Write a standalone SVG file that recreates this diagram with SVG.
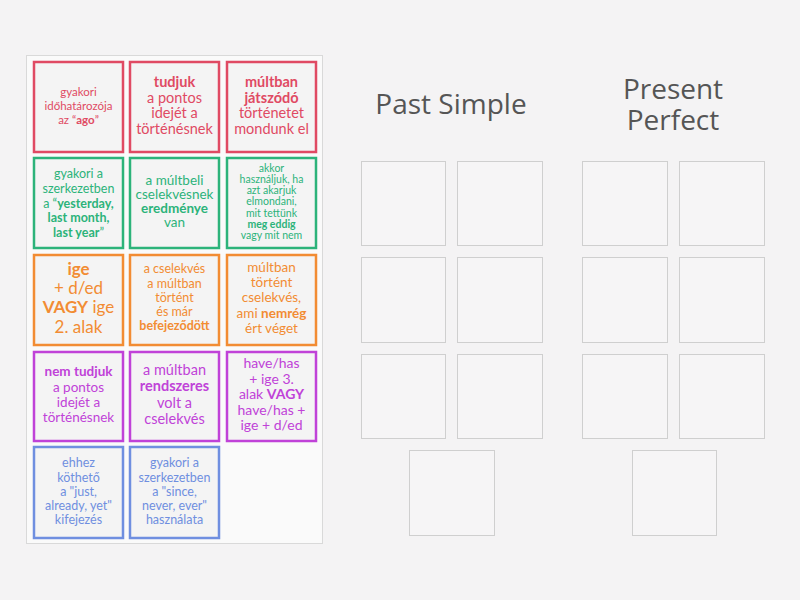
<svg xmlns="http://www.w3.org/2000/svg" width="800" height="600" viewBox="0 0 800 600">
<style>
text{font-family:"Lato","Noto Sans","DejaVu Sans",sans-serif;text-anchor:middle}
.card{fill:#f4f4f4;stroke-width:2.5}
.red rect{stroke:#e04a63}.red text{fill:#e04a63}
.green rect{stroke:#2cb37a}.green text{fill:#2cb37a}
.orange rect{stroke:#f28c33}.orange text{fill:#f28c33}
.purple rect{stroke:#c042d8}.purple text{fill:#c042d8}
.blue rect{stroke:#6f8fe0}.blue text{fill:#6f8fe0}
.b{font-weight:bold}
.slot{fill:#f6f5f6;stroke:#cfcfcf;stroke-width:1}
.title{fill:#555;font-size:28px;font-family:"Open Sans","Lato",sans-serif}
</style>
<rect width="800" height="600" fill="#f4f3f4"/>
<rect x="26.5" y="55.5" width="296" height="488" fill="#fafafa" stroke="#d9d9d9"/>

<g id="card-r1c1" class="red"><rect class="card" x="34" y="62" width="89" height="90"/>
<g font-size="11.5"><text x="78.5" y="96">gyakori</text><text x="78.5" y="110">időhatározója</text><text x="78.5" y="124">az “<tspan class="b">ago</tspan>”</text></g></g>
<g id="card-r1c2" class="red"><rect class="card" x="130" y="62" width="89" height="90"/>
<g font-size="14.5"><text x="174.5" y="87" class="b">tudjuk</text><text x="174.5" y="102.5">a pontos</text><text x="174.5" y="118">idejét a</text><text x="174.5" y="133.5">történésnek</text></g></g>
<g id="card-r1c3" class="red"><rect class="card" x="227" y="62" width="89" height="90"/>
<g font-size="14.5"><text x="271.5" y="87" class="b">múltban</text><text x="271.5" y="102.5" class="b">játszódó</text><text x="271.5" y="118">történetet</text><text x="271.5" y="133.5">mondunk el</text></g></g>

<g id="card-r2c1" class="green"><rect class="card" x="34" y="158" width="89" height="90"/>
<g font-size="12.5"><text x="78.5" y="178">gyakori a</text><text x="78.5" y="193">szerkezetben</text><text x="78.5" y="208">a “<tspan class="b">yesterday,</tspan></text><text x="78.5" y="222" class="b">last month,</text><text x="78.5" y="236.5"><tspan class="b">last year</tspan>”</text></g></g>
<g id="card-r2c2" class="green"><rect class="card" x="130" y="158" width="89" height="90"/>
<g font-size="13.5"><text x="174.5" y="185">a múltbeli</text><text x="174.5" y="199">cselekvésnek</text><text x="174.5" y="213" class="b">eredménye</text><text x="174.5" y="227">van</text></g></g>
<g id="card-r2c3" class="green"><rect class="card" x="227" y="158" width="89" height="90"/>
<g font-size="10.5"><text x="271.5" y="172">akkor</text><text x="271.5" y="183">használjuk, ha</text><text x="271.5" y="194">azt akarjuk</text><text x="271.5" y="205">elmondani,</text><text x="271.5" y="217">mit tettünk</text><text x="271.5" y="228" class="b">meg eddig</text><text x="271.5" y="239">vagy mit nem</text></g></g>

<g id="card-r3c1" class="orange"><rect class="card" x="34" y="255" width="89" height="90"/>
<g font-size="17"><text x="78.5" y="275" class="b">ige</text><text x="78.5" y="294">+ d/ed</text><text x="78.5" y="313"><tspan class="b">VAGY</tspan> ige</text><text x="78.5" y="333">2. alak</text></g></g>
<g id="card-r3c2" class="orange"><rect class="card" x="130" y="255" width="89" height="90"/>
<g font-size="12.5"><text x="174.5" y="273">a cselekvés</text><text x="174.5" y="288">a múltban</text><text x="174.5" y="302">történt</text><text x="174.5" y="316">és már</text><text x="174.5" y="330" class="b">befejeződött</text></g></g>
<g id="card-r3c3" class="orange"><rect class="card" x="227" y="255" width="89" height="90"/>
<g font-size="13.5"><text x="271.5" y="272">múltban</text><text x="271.5" y="287">történt</text><text x="271.5" y="302">cselekvés,</text><text x="271.5" y="318">ami <tspan class="b">nemrég</tspan></text><text x="271.5" y="333">ért véget</text></g></g>

<g id="card-r4c1" class="purple"><rect class="card" x="34" y="352" width="89" height="89"/>
<g font-size="13.5"><text x="78.5" y="376" class="b">nem tudjuk</text><text x="78.5" y="392">a pontos</text><text x="78.5" y="407">idejét a</text><text x="78.5" y="422">történésnek</text></g></g>
<g id="card-r4c2" class="purple"><rect class="card" x="130" y="352" width="89" height="89"/>
<g font-size="14.5"><text x="174.5" y="375">a múltban</text><text x="174.5" y="391" class="b">rendszeres</text><text x="174.5" y="408">volt a</text><text x="174.5" y="424">cselekvés</text></g></g>
<g id="card-r4c3" class="purple"><rect class="card" x="227" y="352" width="89" height="89"/>
<g font-size="14"><text x="271.5" y="368">have/has</text><text x="271.5" y="383.5">+ ige 3.</text><text x="271.5" y="399">alak <tspan class="b">VAGY</tspan></text><text x="271.5" y="414.5">have/has +</text><text x="271.5" y="430">ige + d/ed</text></g></g>

<g id="card-r5c1" class="blue"><rect class="card" x="34" y="447" width="89" height="91"/>
<g font-size="12.5"><text x="78.5" y="467">ehhez</text><text x="78.5" y="481.5">köthető</text><text x="78.5" y="495.5">a "just,</text><text x="78.5" y="509.5">already, yet"</text><text x="78.5" y="524">kifejezés</text></g></g>
<g id="card-r5c2" class="blue"><rect class="card" x="130" y="447" width="89" height="91"/>
<g font-size="12.5"><text x="174.5" y="467">gyakori a</text><text x="174.5" y="481.5">szerkezetben</text><text x="174.5" y="495.5">a "since,</text><text x="174.5" y="509.5">never, ever"</text><text x="174.5" y="524">használata</text></g></g>

<g id="title-past"><text class="title" x="451" y="114">Past Simple</text></g>
<g id="title-present"><text class="title" x="673" y="98.5">Present</text><text class="title" x="673" y="129.5">Perfect</text></g>

<g id="slots-past">
<rect class="slot" x="361.5" y="161.5" width="84" height="84"/><rect class="slot" x="457.5" y="161.5" width="85" height="84"/>
<rect class="slot" x="361.5" y="257.5" width="84" height="85"/><rect class="slot" x="457.5" y="257.5" width="85" height="85"/>
<rect class="slot" x="361.5" y="354.5" width="84" height="84"/><rect class="slot" x="457.5" y="354.5" width="85" height="84"/>
<rect class="slot" x="409.5" y="450.5" width="85" height="85"/>
</g>
<g id="slots-present">
<rect class="slot" x="582.5" y="161.5" width="85" height="84"/><rect class="slot" x="679.5" y="161.5" width="85" height="84"/>
<rect class="slot" x="582.5" y="257.5" width="85" height="85"/><rect class="slot" x="679.5" y="257.5" width="85" height="85"/>
<rect class="slot" x="582.5" y="354.5" width="85" height="84"/><rect class="slot" x="679.5" y="354.5" width="85" height="84"/>
<rect class="slot" x="632.5" y="450.5" width="84" height="85"/>
</g>
</svg>
